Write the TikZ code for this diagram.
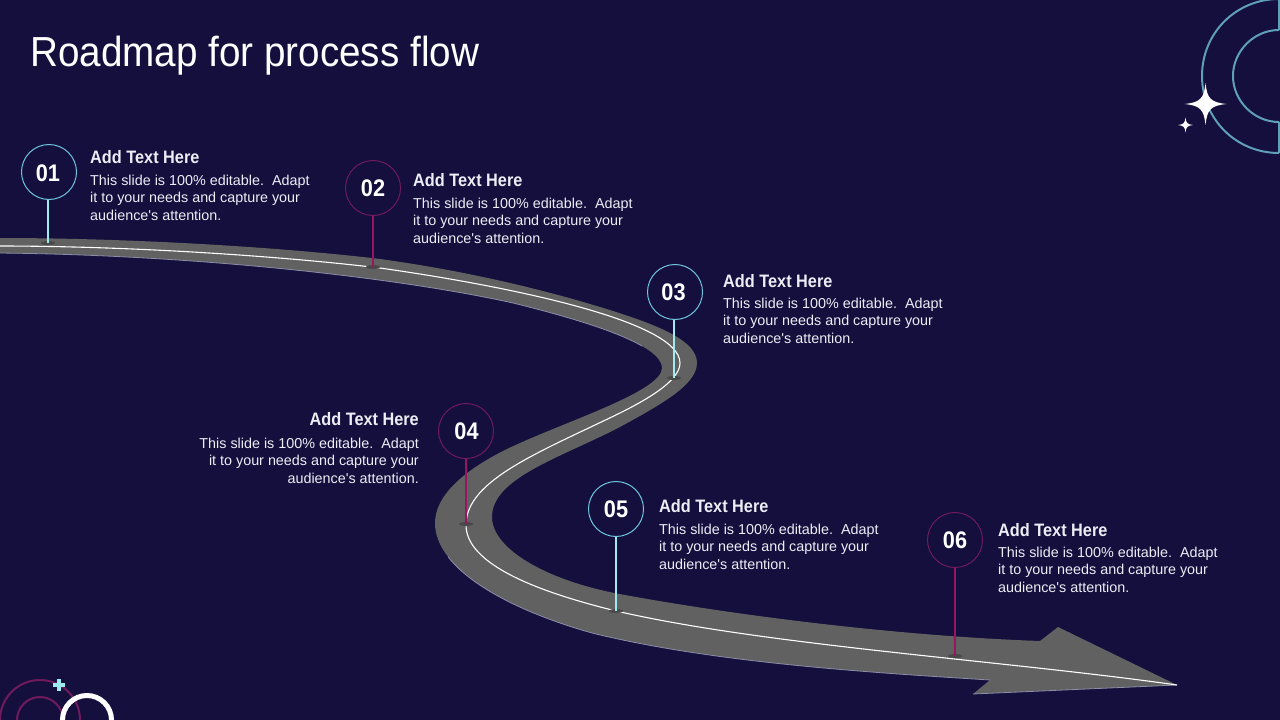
\documentclass[tikz,border=0pt]{standalone}
\usepackage{fontspec}
\setmainfont{Liberation Sans}[Ligatures=TeXOff]
\newfontfamily\headfont[FakeStretch=0.905]{Liberation Sans}
\newfontfamily\titlefont[FakeStretch=0.92]{Liberation Sans}
\definecolor{bgc}{HTML}{140F3D}
\definecolor{roadc}{HTML}{616161}
\definecolor{edgec}{HTML}{8C8CA8}
\definecolor{cyanc}{HTML}{6FC6DC}
\definecolor{cyanl}{HTML}{9CEBF0}
\definecolor{magc}{HTML}{701A5E}
\definecolor{magl}{HTML}{96175F}
\definecolor{decoc}{HTML}{5F9FB8}
\definecolor{textc}{HTML}{EDEDF5}
\tikzset{
 x=1pt,y=-1pt,
 numc/.style={circle,draw=#1,fill=bgc,line width=1pt,minimum size=55pt,inner sep=0pt},
 numt/.style={text=white,font=\headfont\fontsize{24}{24}\selectfont\bfseries},
 headl/.style={anchor=west,inner sep=0pt,text=textc,font=\headfont\fontsize{18}{18}\selectfont\bfseries},
 bodyl/.style={anchor=north west,inner sep=0pt,text=textc,align=left,font=\fontsize{14.35}{17.5}\selectfont},
 bodyr/.style={anchor=north east,inner sep=0pt,text=textc,align=right,font=\fontsize{14.35}{17.5}\selectfont},
 headr/.style={anchor=east,inner sep=0pt,text=textc,font=\headfont\fontsize{18}{18}\selectfont\bfseries},
}
\newcommand{\bodytxt}{This slide is 100\% editable.\ \ Adapt\\it to your needs and capture your\\audience's attention.}
\newcommand{\starshape}[3]{\fill[white] (#1-#3,#2) .. controls (#1-#3*0.25,#2-#3*0.08) and (#1-#3*0.08,#2-#3*0.25) .. (#1,#2-#3) .. controls (#1+#3*0.08,#2-#3*0.25) and (#1+#3*0.25,#2-#3*0.08) .. (#1+#3,#2) .. controls (#1+#3*0.25,#2+#3*0.08) and (#1+#3*0.08,#2+#3*0.25) .. (#1,#2+#3) .. controls (#1-#3*0.08,#2+#3*0.25) and (#1-#3*0.25,#2+#3*0.08) .. (#1-#3,#2) -- cycle;}
\begin{document}
\begin{tikzpicture}
\useasboundingbox (0,0) rectangle (1280,720);
\fill[bgc] (0,0) rectangle (1280,720);
% top-right decoration
\begin{scope}
\clip (1150,0) rectangle (1280,160);
\draw[decoc,line width=2pt] (1279,0) -- (1279,30) (1279,122) -- (1279,153);
\draw[decoc,line width=2pt] (1279,-1) .. controls (1236,-1) and (1202,33) .. (1202,76) .. controls (1202,119) and (1236,153) .. (1279,153);
\draw[decoc,line width=2pt] (1279,30) .. controls (1254,30) and (1233,51) .. (1233,76) .. controls (1233,101) and (1254,122) .. (1279,122);
\end{scope}
\starshape{1205.5}{104}{21}
\starshape{1185.5}{125}{7.5}
% bottom-left decoration
\begin{scope}
\clip (0,660) rectangle (130,720);
\draw[magc,line width=2pt] (40,720) circle[radius=40];
\draw[magc,line width=2pt] (40,720) circle[radius=23];
\draw[white,line width=5pt] (87,720) circle[radius=24.5];
\end{scope}
\draw[cyanl,line width=3.2pt] (53,685) -- (65,685) (59,679) -- (59,691);
% road
\fill[roadc] (-2,238) .. controls (130,238) and (280,247) .. (380,259)
 .. controls (460,270) and (540,288) .. (613,311)
 .. controls (660,326) and (697,341) .. (697,363)
 .. controls (697,385) and (660,405) .. (620,427)
 .. controls (560,458) and (492,478) .. (492,517)
 .. controls (492,550) and (550,582) .. (625,595)
 .. controls (740,616) and (900,636) .. (1040,641)
 -- (1058,627) -- (1177,685) -- (973,694) -- (990,680)
 .. controls (860,672) and (710,662) .. (592,633)
 .. controls (510,610) and (435,570) .. (435,523)
 .. controls (435,495) and (465,470) .. (505,450)
 .. controls (560,423) and (662,392) .. (662,368)
 .. controls (662,345) and (590,322) .. (513,303)
 .. controls (400,278) and (200,255) .. (-2,253) -- cycle;
\begin{scope}
\clip (448,555) rectangle (1000,700);
\draw[edgec,line width=0.8pt] (990,680) .. controls (860,672) and (710,662) .. (592,633)
 .. controls (510,610) and (435,570) .. (435,523);
\end{scope}
\begin{scope}
\clip (-2,230) rectangle (642,360);
\draw[edgec,line width=0.8pt] (662,368) .. controls (662,345) and (590,322) .. (513,303)
 .. controls (400,278) and (200,255) .. (-2,253);
\end{scope}
\draw[edgec,line width=0.8pt] (1177,685) -- (973,694);
\draw[white,line width=1.1pt] (-2,246) .. controls (130,246) and (280,256) .. (380,268)
 .. controls (500,285) and (680,320) .. (680,363)
 .. controls (680,380) and (650,398) .. (620,413)
 .. controls (540,452) and (466,480) .. (466,525)
 .. controls (466,565) and (540,592) .. (612,610)
 .. controls (760,645) and (1000,660) .. (1177,685);
% pin feet
\coordinate (f1) at (48,243);
\coordinate (f2) at (373,267);
\coordinate (f3) at (674,378);
\coordinate (f4) at (466,524);
\coordinate (f5) at (616,611);
\coordinate (f6) at (955,656);
\foreach \p in {f1,f2,f3,f4,f5,f6} \fill[black!25!roadc] (\p) ellipse[x radius=7,y radius=2];
% pins
\node[numc=cyanc] (n1) at (49,172) {};
\node[numc=magc] (n2) at (373,188) {};
\node[numc=cyanc] (n3) at (675,292) {};
\node[numc=magc] (n4) at (466,431) {};
\node[numc=cyanc] (n5) at (616,509) {};
\node[numc=magc] (n6) at (955,540) {};
\draw[cyanl,line width=1.5pt] (n1.south -| f1) -- (f1);
\draw[magl,line width=1.5pt] (n2.south) -- (f2);
\draw[cyanl,line width=2pt] (n3.south -| f3) -- (f3);
\draw[magl,line width=2pt] (n4.south) -- (f4);
\draw[cyanl,line width=2pt] (n5.south) -- (f5);
\draw[magl,line width=2pt] (n6.south) -- (f6);
\node[numt] (t1) at (48,173) {01};
\node[numt] (t2) at (373,188.3) {02};
\node[numt] (t3) at (673.5,292.5) {03};
\node[numt] (t4) at (466.5,431.3) {04};
\node[numt] (t5) at (616,509) {05};
\node[numt] (t6) at (955,540) {06};
% texts
\node[headl] (h1) at (90,157.5) {Add Text Here};
\node[bodyl] (b1) at (90,174.8) {\bodytxt};
\node[headl] (h2) at (413,180.5) {Add Text Here};
\node[bodyl] (b2) at (413,197.8) {\bodytxt};
\node[headl] (h3) at (723,281.5) {Add Text Here};
\node[bodyl] (b3) at (723,297.8) {\bodytxt};
\node[headr] (h4) at (419,419.5) {Add Text Here};
\node[bodyr] (b4) at (419,437.8) {\bodytxt};
\node[headl] (h5) at (659,506.5) {Add Text Here};
\node[bodyl] (b5) at (659,523.8) {\bodytxt};
\node[headl] (h6) at (998,530.5) {Add Text Here};
\node[bodyl] (b6) at (998,546.8) {\bodytxt};
\node[anchor=base west,inner sep=0pt,text=white,font=\titlefont\fontsize{42}{42}\selectfont] (title) at (30,66.5) {Roadmap for process flow};
\end{tikzpicture}
\end{document}
